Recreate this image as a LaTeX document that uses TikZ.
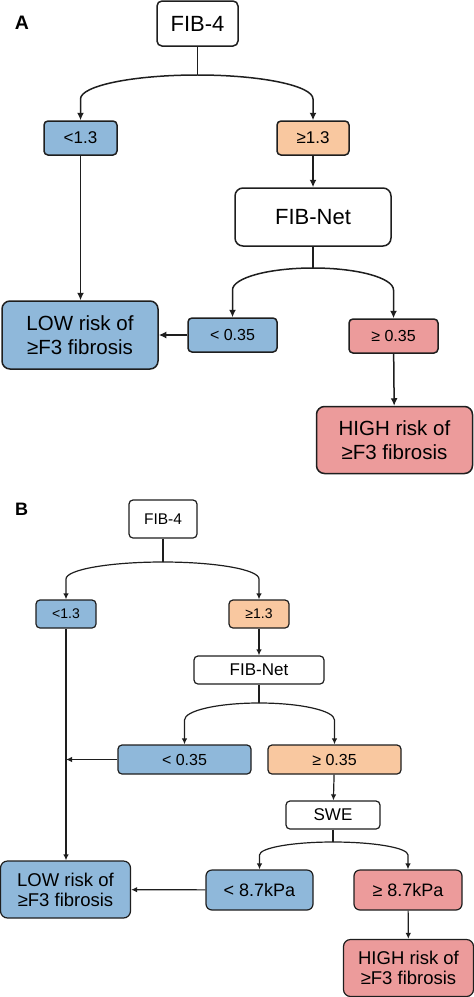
\documentclass[tikz,border=0pt]{standalone}
\usepackage{fontspec}
\setmainfont{Liberation Sans}
\usetikzlibrary{arrows.meta,calc}
\definecolor{bblue}{HTML}{8FB8DA}
\definecolor{bpeach}{HTML}{F9C8A0}
\definecolor{bpink}{HTML}{EC9B9B}
\definecolor{lin}{HTML}{1E1E1E}
\tikzset{
  box/.style={draw=lin, rounded corners=5pt, inner sep=0pt, align=center, text=black},
  abox/.style={box, line width=1.5pt},
  bbox/.style={box, line width=1.2pt, rounded corners=4pt},
  arrA/.style={draw=lin, line width=1.5pt, -{Latex[length=7.5pt,width=7pt]}},
  arrB/.style={draw=lin, line width=1.2pt, -{Latex[length=6pt,width=5.5pt]}},
  lnA/.style={draw=lin, line width=1.5pt},
  lnB/.style={draw=lin, line width=1.2pt},
  fs/.style={font=\fontsize{#1}{#1}\selectfont},
}
% branch: style, split coordinate, target node, drop
\newcommand\mybranch[4]{%
  \draw[#1] (#2) .. controls ($(#2)!0.552!(#3.north |- #2)$) and ($(#3.north |- #2)+(0,{0.448*#4})$) .. ($(#3.north |- #2)+(0,#4)$) -- (#3.north);}
\begin{document}
\begin{tikzpicture}[x=1pt,y=-1pt]
\useasboundingbox (0,0) rectangle (474,997);
% ---------------- Panel A ----------------
\node[font=\fontsize{19.5}{20}\selectfont\bfseries] (labA) at (22,23) {A};
\node[abox, fill=white, minimum width=81pt, minimum height=45pt, fs=22] (fibA) at (197.5,23.5) {FIB-4};
\node[abox, fill=bblue, rounded corners=4pt, minimum width=73pt, minimum height=34pt, fs=17] (alt13) at (80.5,138) {<1.3};
\node[abox, fill=bpeach, rounded corners=4pt, minimum width=72pt, minimum height=34pt, fs=17] (age13) at (313,138) {≥1.3};
\node[abox, fill=white, rounded corners=8pt, minimum width=156pt, minimum height=58pt, fs=22] (anet) at (313,217) {FIB-Net};
\node[abox, fill=bblue, rounded corners=8pt, minimum width=156pt, minimum height=68pt, font=\fontsize{20.5}{24}\selectfont] (alow) at (80,335) {LOW risk of\\≥F3 fibrosis};
\node[abox, fill=bblue, rounded corners=4pt, minimum width=89pt, minimum height=34pt, fs=16] (alt035) at (232.5,335) {< 0.35};
\node[abox, fill=bpink, rounded corners=4pt, minimum width=89pt, minimum height=34pt, fs=16] (age035) at (393.5,336) {≥ 0.35};
\node[abox, fill=bpink, rounded corners=8pt, minimum width=156pt, minimum height=67pt, font=\fontsize{20.5}{24}\selectfont] (ahigh) at (394.5,440) {HIGH risk of\\≥F3 fibrosis};

\coordinate (s1) at (197.5,75);
\coordinate (s2) at (313,268);
\draw[lnA] (fibA) -- (s1);
\mybranch{arrA}{s1}{alt13}{24}
\mybranch{arrA}{s1}{age13}{24}
\draw[arrA] (age13) -- (anet);
\draw[arrA] (alt13) -- (alt13 |- alow.north);
\draw[lnA] (anet) -- (s2);
\mybranch{arrA}{s2}{alt035}{22}
\mybranch{arrA}{s2}{age035}{22}
\draw[arrA] (alt035) -- (alow);
\draw[arrA] (age035) -- (ahigh);

% ---------------- Panel B ----------------
\node[font=\fontsize{18}{20}\selectfont\bfseries] (labB) at (21.5,509.5) {B};
\node[bbox, fill=white, minimum width=68pt, minimum height=38pt, fs=15.5] (fibB) at (163,519) {FIB-4};
\node[bbox, fill=bblue, minimum width=60pt, minimum height=28pt, fs=14] (blt13) at (66,614) {<1.3};
\node[bbox, fill=bpeach, minimum width=60pt, minimum height=28pt, fs=14] (bge13) at (259,614) {≥1.3};
\node[bbox, fill=white, minimum width=130pt, minimum height=28pt, fs=17] (bnet) at (259,670) {FIB-Net};
\node[bbox, fill=bblue, minimum width=133pt, minimum height=29pt, fs=16] (blt035) at (184.5,759.5) {< 0.35};
\node[bbox, fill=bpeach, minimum width=133pt, minimum height=29pt, fs=16] (bge035) at (334.5,759.5) {≥ 0.35};
\node[bbox, fill=white, minimum width=94pt, minimum height=28pt, fs=17] (bswe) at (333,815) {SWE};
\node[bbox, fill=bblue, rounded corners=6pt, minimum width=107pt, minimum height=40pt, fs=18] (blt87) at (259.5,890) {< 8.7kPa};
\node[bbox, fill=bpink, rounded corners=6pt, minimum width=108pt, minimum height=40pt, fs=18] (bge87) at (408,890) {≥ 8.7kPa};
\node[bbox, fill=bblue, rounded corners=7pt, minimum width=130pt, minimum height=57pt, font=\fontsize{18.5}{20}\selectfont] (blow) at (65.5,889.5) {LOW risk of\\≥F3 fibrosis};
\node[bbox, fill=bpink, rounded corners=7pt, minimum width=130pt, minimum height=57pt, font=\fontsize{18.5}{20}\selectfont] (bhigh) at (408.5,968) {HIGH risk of\\≥F3 fibrosis};

\coordinate (s3) at (163,562);
\coordinate (s4) at (259,703);
\coordinate (s5) at (333,842);
\draw[lnB] (fibB) -- (s3);
\mybranch{arrB}{s3}{blt13}{17}
\mybranch{arrB}{s3}{bge13}{17}
\draw[arrB] (bge13) -- (bnet);
\draw[lnB] (bnet) -- (s4);
\mybranch{arrB}{s4}{blt035}{17}
\mybranch{arrB}{s4}{bge035}{17}
\draw[arrB] (bge035) -- (bswe);
\draw[lnB] (bswe) -- (s5);
\mybranch{arrB}{s5}{blt87}{13}
\mybranch{arrB}{s5}{bge87}{13}
\draw[arrB] (blt13) -- (blt13 |- blow.north);
\draw[arrB] (blt035.west) -- (blt035.west -| blt13.south);
\draw[arrB] (blt87) -- (blow);
\draw[arrB] (bge87) -- (bhigh);
\end{tikzpicture}
\end{document}
